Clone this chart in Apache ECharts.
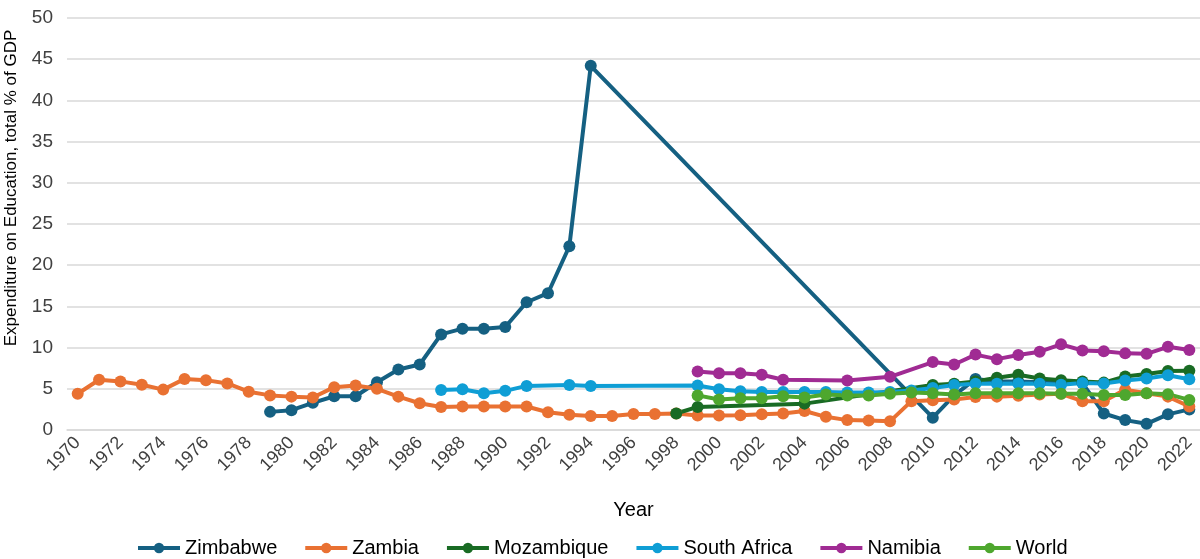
<!DOCTYPE html>
<html>
<head>
<meta charset="utf-8">
<script src="https://cdn.jsdelivr.net/npm/echarts@6/dist/echarts.min.js"></script>
<style>
  html, body { margin: 0; padding: 0; background: #fff; }
  #chart { width: 1200px; height: 559px; }
</style>
</head>
<body>
<div id="chart"></div>
<script>
// years on the x axis
var years = [];
for (var y = 1970; y <= 2022; y++) years.push(String(y));

// [year, % of GDP]
var zimbabwe = [
  ['1979', 2.2], ['1980', 2.4], ['1981', 3.3], ['1982', 4.1], ['1983', 4.1],
  ['1984', 5.8], ['1985', 7.35], ['1986', 7.95], ['1987', 11.6], ['1988', 12.3],
  ['1989', 12.3], ['1990', 12.5], ['1991', 15.5], ['1992', 16.6], ['1993', 22.3],
  ['1994', 44.2], ['2010', 1.5], ['2011', 4.2], ['2012', 6.2], ['2013', 5.9],
  ['2014', 5.9], ['2015', 5.8], ['2016', 5.7], ['2017', 5.7], ['2018', 2.0],
  ['2019', 1.2], ['2020', 0.75], ['2021', 1.9], ['2022', 2.5]
];
var zambia = [
  ['1970', 4.4], ['1971', 6.1], ['1972', 5.9], ['1973', 5.5], ['1974', 4.9],
  ['1975', 6.2], ['1976', 6.05], ['1977', 5.65], ['1978', 4.65], ['1979', 4.2],
  ['1980', 4.05], ['1981', 3.95], ['1982', 5.2], ['1983', 5.4], ['1984', 5.0],
  ['1985', 4.05], ['1986', 3.25], ['1987', 2.8], ['1988', 2.85], ['1989', 2.85],
  ['1990', 2.85], ['1991', 2.85], ['1992', 2.15], ['1993', 1.85], ['1994', 1.7],
  ['1995', 1.7], ['1996', 1.95], ['1997', 1.95], ['1998', 2.0], ['1999', 1.75],
  ['2000', 1.75], ['2001', 1.8], ['2002', 1.9], ['2003', 2.0], ['2004', 2.3],
  ['2005', 1.6], ['2006', 1.2], ['2007', 1.15], ['2008', 1.05], ['2009', 3.5],
  ['2010', 3.6], ['2011', 3.7], ['2012', 4.0], ['2013', 4.05], ['2014', 4.15],
  ['2015', 4.3], ['2016', 4.4], ['2017', 3.5], ['2018', 3.5], ['2019', 4.9],
  ['2020', 4.45], ['2021', 4.05], ['2022', 2.85]
];
var mozambique = [
  ['1998', 2.0], ['1999', 2.8], ['2004', 3.2], ['2010', 5.45], ['2011', 5.6],
  ['2012', 5.9], ['2013', 6.35], ['2014', 6.7], ['2015', 6.25], ['2016', 6.05],
  ['2017', 5.9], ['2018', 5.75], ['2019', 6.5], ['2020', 6.8], ['2021', 7.15],
  ['2022', 7.2]
];
var southAfrica = [
  ['1987', 4.85], ['1988', 4.95], ['1989', 4.45], ['1990', 4.75], ['1991', 5.35],
  ['1993', 5.45], ['1994', 5.35], ['1999', 5.4], ['2000', 4.95], ['2001', 4.7],
  ['2002', 4.6], ['2003', 4.6], ['2004', 4.6], ['2005', 4.6], ['2006', 4.55],
  ['2007', 4.55], ['2008', 4.6], ['2009', 4.8], ['2010', 5.1], ['2011', 5.45],
  ['2012', 5.6], ['2013', 5.6], ['2014', 5.65], ['2015', 5.6], ['2016', 5.5],
  ['2017', 5.7], ['2018', 5.65], ['2019', 6.0], ['2020', 6.25], ['2021', 6.65],
  ['2022', 6.15]
];
var namibia = [
  ['1999', 7.1], ['2000', 6.9], ['2001', 6.9], ['2002', 6.7], ['2003', 6.1],
  ['2006', 6.0], ['2008', 6.45], ['2010', 8.25], ['2011', 7.95], ['2012', 9.15],
  ['2013', 8.6], ['2014', 9.1], ['2015', 9.5], ['2016', 10.4], ['2017', 9.65],
  ['2018', 9.55], ['2019', 9.3], ['2020', 9.25], ['2021', 10.1], ['2022', 9.7]
];
var world = [
  ['1999', 4.2], ['2000', 3.7], ['2001', 3.85], ['2002', 3.85], ['2003', 4.1],
  ['2004', 3.95], ['2005', 4.3], ['2006', 4.2], ['2007', 4.2], ['2008', 4.4],
  ['2009', 4.55], ['2010', 4.45], ['2011', 4.3], ['2012', 4.45], ['2013', 4.45],
  ['2014', 4.45], ['2015', 4.45], ['2016', 4.4], ['2017', 4.4], ['2018', 4.25],
  ['2019', 4.25], ['2020', 4.45], ['2021', 4.35], ['2022', 3.65]
];

var names = ['Zimbabwe', 'Zambia', 'Mozambique', 'South Africa', 'Namibia', 'World'];
var colors = ['#156082', '#E97132', '#196B24', '#0F9ED5', '#A02B93', '#4EA72E'];
var seriesData = [zimbabwe, zambia, mozambique, southAfrica, namibia, world];

var FONT = 'Liberation Sans, Arial, sans-serif';
var TXT = '#404040';

var chart = echarts.init(document.getElementById('chart'));
chart.setOption({
  animation: false,
  color: colors,
  grid: { left: 67, right: 0, top: 18, bottom: 129, containLabel: false, outerBoundsMode: 'none' },
  legend: {
    data: names,
    left: 131,
    top: 533,
    itemWidth: 42,
    itemHeight: 13,
    itemGap: 26,
    lineStyle: { width: 4 },
    textStyle: { fontFamily: FONT, fontSize: 20, color: '#000' }
  },
  xAxis: {
    type: 'category',
    data: years,
    boundaryGap: true,
    name: 'Year',
    nameLocation: 'middle',
    nameGap: 70,
    nameTextStyle: { fontFamily: FONT, fontSize: 20, color: '#000' },
    axisLine: { lineStyle: { color: '#d9d9d9', width: 1.5 } },
    axisTick: { show: false },
    axisLabel: {
      interval: 1,
      rotate: 45,
      margin: 10,
      fontFamily: FONT,
      fontSize: 18,
      color: TXT
    }
  },
  yAxis: {
    type: 'value',
    min: 0,
    max: 50,
    interval: 5,
    name: 'Expenditure on Education, total % of GDP',
    nameLocation: 'middle',
    nameGap: 47,
    nameTextStyle: { fontFamily: FONT, fontSize: 17, color: '#000', padding: [0, 0, 0, 72] },
    axisLine: { show: false },
    axisTick: { show: false },
    axisLabel: { margin: 14, fontFamily: FONT, fontSize: 19, color: TXT },
    splitLine: { lineStyle: { color: '#d9d9d9', width: 1.5 } }
  },
  series: names.map(function (n, i) {
    return {
      name: n,
      type: 'line',
      data: seriesData[i],
      symbol: 'circle',
      symbolSize: 12,
      lineStyle: { width: 4, color: colors[i] },
      itemStyle: { color: colors[i] }
    };
  })
});
</script>
</body>
</html>
